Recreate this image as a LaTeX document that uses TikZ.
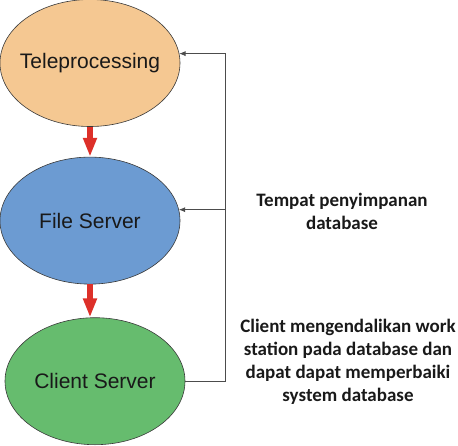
\documentclass[tikz,border=0pt]{standalone}
\usepackage{fontspec}
\setmainfont{Liberation Sans}
\newfontfamily\notefont{Carlito}
\usetikzlibrary{positioning, calc, arrows.meta, shapes.geometric}
\definecolor{colour_tele}{HTML}{F5C892}
\definecolor{colour_file}{HTML}{6C9BD2}
\definecolor{colour_client}{HTML}{66BC6E}
\definecolor{colour_flow}{HTML}{DD3029}
\definecolor{colour_edge}{HTML}{3A3A3A}

\begin{document}
\begin{tikzpicture}[
    x=1pt, y=1pt,
    ell/.style={ellipse, draw=colour_edge, line width=0.6pt, inner sep=0pt,
                minimum width=180pt, minimum height=127pt},
    elltext/.style={font=\fontsize{21}{24}\selectfont, text=black!90},
    flow/.style={-{Triangle[length=19pt, width=13pt]}, line width=6pt, colour_flow},
    conn/.style={-{Latex[length=2.2mm, width=1.8mm]}, line width=0.7pt, black!70},
    note/.style={font=\notefont\bfseries\fontsize{19}{23}\selectfont, align=center, text=black!90}
]
\useasboundingbox (0,0) rectangle (458,-445);

% Main ellipses
\node[ell, fill=colour_tele, label={[elltext]center:Teleprocessing}] (tele) at (90,-63) {};
\node[ell, fill=colour_file, label={[elltext]center:File Server}, below=30pt of tele] (file) {};
\node[ell, fill=colour_client, label={[elltext]center:Client Server}, below=33pt of file, xshift=5pt] (client) {};

% Red flow arrows
\draw[flow] (tele.south) -- (file.north);
\draw[flow] (file.south) -- (file.south |- client.north);

% Feedback line on the right
\draw[conn] (client.east) -- ++(40pt,0) coordinate (bend) |- (tele.6);
\draw[conn] (bend |- file.7) -- (file.7);

% Notes
\node[note] (storage) at (342,-211) {Tempat penyimpanan\\database};
\node[note] (control) at (348,-362) {Client mengendalikan work\\station pada database dan\\dapat dapat memperbaiki\\system database};

\end{tikzpicture}
\end{document}
